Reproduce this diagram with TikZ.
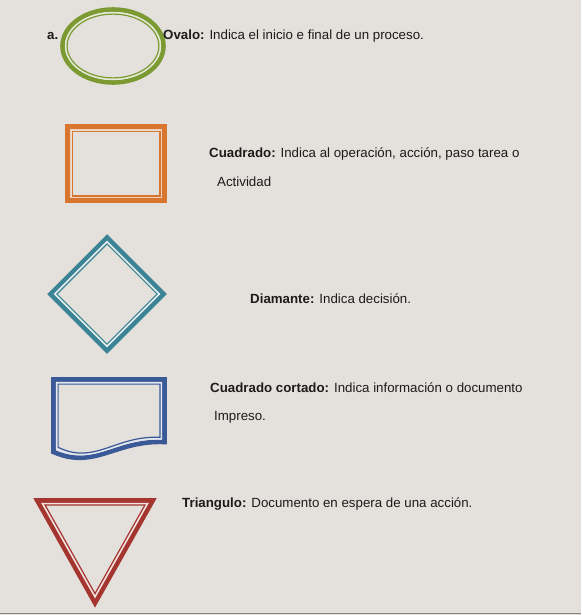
\documentclass[tikz,border=0pt]{standalone}
\usepackage{fontspec}
\setmainfont{Liberation Sans}
\usetikzlibrary{calc}
\definecolor{paper}{HTML}{E4E0DC}
\definecolor{ink}{HTML}{1C1C1C}
\definecolor{ovalgreen}{HTML}{7B9A32}
\definecolor{boxorange}{HTML}{D8752F}
\definecolor{diamteal}{HTML}{3B8495}
\definecolor{docblue}{HTML}{3A5A97}
\definecolor{trired}{HTML}{A5352F}
\begin{document}
\begin{tikzpicture}[x=1pt,y=-1pt,
  every node/.style={anchor=base west,inner sep=0pt,text=ink,
    font=\fontsize{13.3}{16}\selectfont},
  band/.style={line width=4.6pt,line join=miter},
  gap/.style={line width=1.6pt},
  rim/.style={line width=1.2pt}]
  \fill[paper] (0,0) rectangle (581,615);
  \useasboundingbox (0,0) rectangle (581,615);
  \draw[line width=1.5pt,gray] (0,613.5) -- (581,613.5);

  % ovalo
  \draw[band,ovalgreen] (113,46) ellipse [x radius=50.5pt,y radius=36.5pt];
  \draw[gap,ovalgreen!20!white] (113,46) ellipse [x radius=47.3pt,y radius=33.3pt];
  \draw[rim,ovalgreen] (113,46) ellipse [x radius=45.9pt,y radius=31.9pt];
  \node (lblA) at (47,40) {\bfseries a.};
  \node (txtOvalo) at (163,40) {\bfseries Ovalo: \mdseries Indica el inicio e final de un proceso.};

  % cuadrado
  \draw[band,boxorange] (67.5,126.5) rectangle (164.5,200.5);
  \draw[gap,boxorange!35!white] (70.6,129.6) rectangle (161.4,197.4);
  \draw[rim,boxorange] (72.1,131.1) rectangle (159.9,195.9);
  \node (txtCuadrado) at (209,157) {\bfseries Cuadrado: \mdseries Indica al operación, acción, paso tarea o};
  \node (txtActividad) at (217,186) {Actividad};

  % diamante
  \draw[band,diamteal] (107,237.5) -- (163.5,294) -- (107,350.5) -- (50.5,294) -- cycle;
  \draw[gap,diamteal!15!white] (107,241.8) -- (159.2,294) -- (107,346.2) -- (54.8,294) -- cycle;
  \draw[rim,diamteal] (107,243.9) -- (157.1,294) -- (107,344.1) -- (56.9,294) -- cycle;
  \node (txtDiamante) at (250,303) {\bfseries Diamante: \mdseries Indica decisión.};

  % cuadrado cortado
  \draw[band,docblue] (53.5,379.5) -- (164.5,379.5) -- (164.5,442)
    .. controls (115,440) and (95,470) .. (53.5,452) -- cycle;
  \draw[gap,docblue!15!white] (56.6,382.6) -- (161.4,382.6) -- (161.4,438.8)
    .. controls (115,436.8) and (95,466.8) .. (56.6,448.8) -- cycle;
  \draw[rim,docblue] (58.1,384.1) -- (159.9,384.1) -- (159.9,437.3)
    .. controls (115,435.3) and (95,465.3) .. (58.1,447.3) -- cycle;
  \node (txtCortado) at (210,392) {\bfseries Cuadrado cortado: \mdseries Indica información o documento};
  \node (txtImpreso) at (214,420) {Impreso.};

  % triangulo
  \coordinate (triC) at (95,534.2);
  \coordinate (triL) at (33,498);
  \coordinate (triR) at (157,498);
  \coordinate (triB) at (95,608);
  \draw[band,trired] ($(triC)!0.931!(triL)$) -- ($(triC)!0.931!(triR)$)
    -- ($(triC)!0.931!(triB)$) -- cycle;
  \draw[gap,trired!15!white] ($(triC)!0.846!(triL)$) -- ($(triC)!0.846!(triR)$)
    -- ($(triC)!0.846!(triB)$) -- cycle;
  \draw[rim,trired] ($(triC)!0.805!(triL)$) -- ($(triC)!0.805!(triR)$)
    -- ($(triC)!0.805!(triB)$) -- cycle;
  \node (txtTriangulo) at (182,507) {\bfseries Triangulo: \mdseries Documento en espera de una acción.};
\end{tikzpicture}
\end{document}
